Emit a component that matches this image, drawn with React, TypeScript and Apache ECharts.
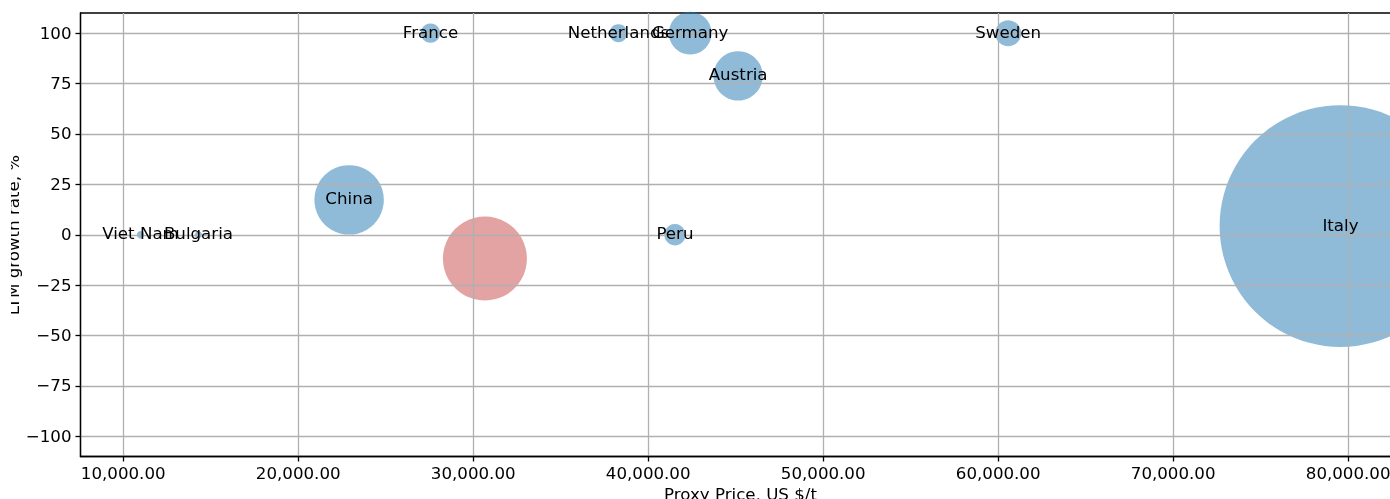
import React, { useEffect, useRef } from "react";
import * as echarts from "echarts";

const countries = ["Viet Nam", "Bulgaria", "France", "Netherlands", "Germany", "Austria", "Sweden", "China", "", "Peru", "Italy"];
const proxyPrice = [10990, 14300, 27560, 38300, 42400, 45140, 60570, 22910, 30670, 41530, 79560];
const growthRate = [0, 0, 100, 100, 100, 78.8, 100, 17.3, -11.8, 0, 4.3];
const markerArea = [19, 18, 134, 117, 656, 875, 243, 1738, 2540, 163, 21030];
const highlighted = [false, false, false, false, false, false, false, false, true, false, false];

const xTicks = [10000, 20000, 30000, 40000, 50000, 60000, 70000, 80000];
const yTicks = [-100, -75, -50, -25, 0, 25, 50, 75, 100];

const FONT = "DejaVu Sans";
const FS = 16.67;

export default function App() {
  const ref = useRef<HTMLDivElement>(null);
  useEffect(() => {
    if (!ref.current) return;
    const chart = echarts.init(ref.current, null, { renderer: "svg" });
    const data = countries.map((c, i) => ({
      name: c,
      value: [proxyPrice[i], growthRate[i], markerArea[i]],
      itemStyle: { color: highlighted[i] ? "#c74747" : "#1f77b4", opacity: 0.5 },
    }));
    chart.setOption({
      animation: false,
      grid: {
        left: 80.5,
        top: 13,
        width: 1320,
        height: 443.5,
        outerBoundsMode: "none",
        containLabel: false,
        show: true,
        borderColor: "#000",
        borderWidth: 1.3,
        backgroundColor: "transparent",
      },
      xAxis: {
        type: "value",
        min: 7560,
        max: 82990,
        z: 3,
        axisLine: { show: true, onZero: false, lineStyle: { color: "#000", width: 1.3 } },
        axisTick: { show: true, customValues: xTicks, length: 5, lineStyle: { color: "#000", width: 1.3 } },
        axisLabel: {
          customValues: xTicks,
          margin: 8,
          color: "#000",
          fontFamily: FONT,
          fontSize: FS,
          formatter: (v: number) => v.toLocaleString("en-US", { minimumFractionDigits: 2, maximumFractionDigits: 2 }),
        },
        splitLine: { show: true, lineStyle: { color: "#b0b0b0", width: 1.3 } },
        name: "Proxy Price, US $/t",
        nameLocation: "middle",
        nameGap: 27,
        nameTextStyle: { color: "#000", fontFamily: FONT, fontSize: FS },
      },
      yAxis: {
        type: "value",
        min: -110,
        max: 110,
        z: 3,
        axisLine: { show: true, onZero: false, lineStyle: { color: "#000", width: 1.3 } },
        axisTick: { show: true, customValues: yTicks, length: 5, lineStyle: { color: "#000", width: 1.3 } },
        axisLabel: {
          customValues: yTicks,
          margin: 9,
          color: "#000",
          fontFamily: FONT,
          fontSize: FS,
          formatter: (v: number) => (v < 0 ? "\u2212" + Math.abs(v) : String(v)),
        },
        splitLine: { show: true, lineStyle: { color: "#b0b0b0", width: 1.3 } },
      },
      graphic: [
        {
          type: "text",
          x: 13,
          y: 235,
          rotation: Math.PI / 2,
          z: 10,
          style: { text: "LTM growth rate, %", fill: "#000", font: `${FS}px "${FONT}"`, textAlign: "center", textVerticalAlign: "middle" },
        },
        { type: "rect", shape: { x: 0, y: 0, width: 11, height: 499 }, style: { fill: "#fff" }, z: 11 },
      ],
      series: [
        {
          type: "scatter",
          z: 2,
          data,
          symbolSize: (v: number[]) => Math.sqrt(v[2]) * 1.667,
          label: { show: false },
          emphasis: { disabled: true },
        },
        {
          type: "scatter",
          z: 5,
          data: data.map((d) => ({ name: d.name, value: d.value })),
          symbolSize: 1,
          itemStyle: { color: "rgba(0,0,0,0)", opacity: 1 },
          label: { show: true, position: "inside", offset: [0, -1], formatter: (p: any) => p.name, color: "#000", opacity: 1, fontFamily: FONT, fontSize: FS },
          emphasis: { disabled: true },
        },
      ],
    });
    return () => chart.dispose();
  }, []);
  return <div ref={ref} style={{ position: "fixed", left: 0, top: 0, width: 1390, height: 499 }} />;
}
